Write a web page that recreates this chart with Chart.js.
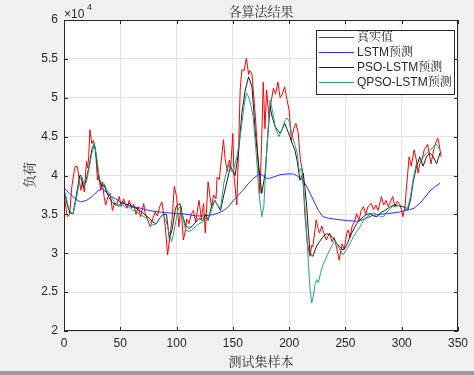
<!DOCTYPE html>
<html><head><meta charset="utf-8">
<script src="https://cdn.jsdelivr.net/npm/chart.js@4.4.1/dist/chart.umd.min.js"></script>
<style>html,body{margin:0;padding:0;background:#f0f0f0;overflow:hidden}canvas{display:block}</style>
</head><body>
<canvas id="c" width="474" height="375"></canvas>
<script>
// ---- data (values in units of 1e4) ----
const seriesNames = ['真实值', 'LSTM预测', 'PSO-LSTM预测', 'QPSO-LSTM预测'];
const xTicks = [0, 50, 100, 150, 200, 250, 300, 350];
const yTicks = [2, 2.5, 3, 3.5, 4, 4.5, 5, 5.5, 6];

const realX = [0,2,3,5,7,9,10,12,13.5,15,16.5,18,20,21,22,23,24.7,26,28,29.7,31,32.6,34,35.6,37,39,41,43,45,47,49,51,53,54.5,56,58,60,62,64,66,68,70.8,72,74,76.7,79,81,83,85,87,88.5,90,92,94,96,98,100,102,104,106,108,109,111,113,115,117,119,120,122,124,125.5,128,130,131,133,135,136,138,139,141.7,143,145,147,148,150,151,153.5,155,156.5,158,160,162,164,165,167,170,172,173,174,175.5,177,178.5,180,182,184,186,188,190,192,194,196,198,200,202,204,206,208,210,212,214,216,218.5,220,221,223,224,226,227,229,231,233,236,238,240,242,244.5,247,249,251,252.5,254,256,258,260,262,264,266,268,270,273,275,277,279,282,284,286,288,290,292,294,296,298,300,301,303,304,306.6,308.5,311,313,314.5,316,318,320,323,326,329,332,333,335];
const realY = [3.78,3.55,3.47,3.5,3.86,4.05,4.12,4.11,3.94,3.81,3.94,3.79,4.18,4.1,4.26,4.59,4.41,4.45,4.33,3.94,4.0,3.81,3.92,3.73,3.62,3.72,3.77,3.55,3.65,3.63,3.73,3.6,3.7,3.64,3.58,3.68,3.58,3.63,3.5,3.6,3.47,3.64,3.52,3.44,3.34,3.45,3.53,3.48,3.6,3.66,3.5,3.34,2.98,3.2,3.44,3.86,3.73,3.34,3.6,3.17,3.3,3.44,3.38,3.5,3.55,3.4,3.6,3.68,3.44,3.64,3.26,3.92,3.7,3.6,3.75,3.7,3.98,3.95,4.1,4.46,4.23,4.05,4.2,4.1,4.54,4.0,3.62,4.3,5.1,5.36,5.35,5.51,5.3,5.35,5.3,4.76,4.3,4.03,3.77,4.4,5.2,4.6,5.1,4.75,4.95,5.12,5.05,5.2,5.0,5.05,5.14,4.98,4.84,4.45,4.6,4.67,4.55,4.2,4.05,3.5,3.15,2.96,3.1,3.08,3.3,3.43,3.3,3.26,3.35,3.25,3.17,3.26,3.15,3.2,3.08,2.91,3.12,3.05,3.25,3.3,3.2,3.35,3.4,3.51,3.42,3.55,3.6,3.5,3.6,3.64,3.56,3.62,3.55,3.73,3.62,3.68,3.6,3.66,3.73,3.6,3.67,3.64,3.55,3.47,3.6,3.81,4.24,4.12,4.33,4.2,4.03,4.15,4.2,4.33,4.4,4.15,4.37,4.48,4.42,4.24];

const lstmX = [0,5,10,14.6,20,25,30,34,38,42,46,50,55,60,68,75,85.5,93,100,110,117,124,130,136,142,146,150.5,155,159,164,168,172.7,176,179,181.6,186,192,198,204,207.5,212,215.6,219,223,226,230,235,240,245,252,260,265,270,274.6,280,287,293,298,303,307,311,316,320,325,330,334];
const lstmY = [3.84,3.77,3.7,3.66,3.68,3.73,3.8,3.83,3.78,3.73,3.7,3.66,3.63,3.6,3.58,3.55,3.53,3.52,3.51,3.5,3.48,3.48,3.49,3.51,3.55,3.6,3.68,3.75,3.81,3.9,3.96,4.01,4.01,3.97,3.96,3.98,4.01,4.02,4.02,3.99,3.94,3.86,3.76,3.64,3.55,3.47,3.45,3.44,3.43,3.42,3.41,3.43,3.46,3.49,3.5,3.51,3.52,3.53,3.55,3.56,3.58,3.64,3.71,3.8,3.86,3.9];

const psoX = [0,3,5,8,11,14,15,17,19,22,25,27,29,31,33.5,35.5,38,40,43,46,49,52,55,58,61,64,67,70,73,76,79,82,85,88,91,93.5,96,99,101,103,105,108,111,114,117,120,123,126,128,131,134,137,139,142,145,148,150,152,155,158,161,164,167,170,173,175.7,178.7,181,183,185,187.5,190,192,194,196,198,200.6,203,205,207,209.6,212.5,214,215.6,217,218.6,221,224,227,230,233,236,239,242,245,248,251,254,257,260,263,266,269,272,275,278,281,285,288,290,293,296,299,302,305.6,308,310,313,316,319,322,325,328,331,334];
const psoY = [3.81,3.62,3.52,3.51,3.75,4.0,4.0,3.85,3.9,4.1,4.35,4.41,4.2,3.95,3.86,3.88,3.78,3.72,3.65,3.62,3.62,3.66,3.62,3.64,3.6,3.58,3.55,3.52,3.48,3.45,3.4,3.38,3.45,3.5,3.5,3.2,3.3,3.58,3.62,3.64,3.5,3.36,3.32,3.35,3.4,3.45,3.42,3.5,3.42,3.6,3.68,3.6,3.55,3.75,3.94,4.12,4.05,4.0,4.29,4.8,5.1,5.27,5.14,4.54,4.12,3.77,4.03,4.5,4.88,4.75,4.63,4.58,4.54,4.6,4.67,4.6,4.5,4.4,4.33,4.2,3.94,4.03,3.85,3.6,3.3,3.0,2.96,3.08,3.15,3.21,3.25,3.24,3.2,3.13,3.08,3.04,3.1,3.21,3.3,3.38,3.43,3.47,3.5,3.51,3.48,3.47,3.52,3.55,3.58,3.6,3.62,3.62,3.6,3.6,3.56,3.7,3.9,4.11,4.24,4.12,4.24,4.29,4.24,4.15,4.29];

const qpsoX = [0,3,5,8,11,14,16,18,20,23,25,27,29,31,33,35.5,38,40,43,46,49,52,55,58,61,64,67,70,73,76,79,82,85,88,91,93.5,95.6,98,101,103,105,108,111,114,117,120,123,126,128,131,134,137,139,142,146,149,151,153.5,156,158,160,162,164,166,168,171,173,175.7,177.5,180,183,185,188,191,194,196,198,200,202,205,207,209,211,213,215,217,218.5,220,221.5,223,224.5,226,228,230,232,234,236,238,240.7,243,246,248,251,254,257,260,263,266,269,272,275,278,281,284,287,290,292,295,298,301,304,306,308,310,313,317,320,322,325,328,331,334];
const qpsoY = [3.83,3.65,3.55,3.5,3.7,3.95,3.98,3.87,3.92,4.15,4.3,4.4,4.25,4.0,3.9,3.9,3.82,3.76,3.7,3.63,3.6,3.63,3.58,3.6,3.55,3.55,3.5,3.48,3.45,3.42,3.36,3.38,3.45,3.5,3.4,3.25,3.15,3.3,3.55,3.6,3.5,3.3,3.28,3.3,3.35,3.38,3.4,3.45,3.43,3.55,3.68,3.6,3.58,3.9,4.16,4.05,4.1,4.24,4.45,4.67,4.9,5.06,5.01,4.9,4.76,4.24,3.8,3.47,3.6,4.3,4.97,4.85,4.6,4.5,4.6,4.7,4.74,4.7,4.55,4.4,4.3,4.05,4.1,3.8,3.4,2.9,2.55,2.36,2.45,2.6,2.66,2.62,2.75,2.85,2.91,2.98,3.04,3.1,3.17,3.1,3.02,2.98,3.05,3.12,3.21,3.28,3.34,3.42,3.47,3.5,3.52,3.5,3.47,3.47,3.53,3.58,3.6,3.6,3.62,3.6,3.56,3.62,3.75,3.94,4.15,4.2,4.25,4.29,4.32,4.37,4.4,4.33];

const colors = ['#ff0000', '#2b2bff', '#1e1e1e', '#1fa585'];
const toPts = (xs, ys) => xs.map((x, i) => ({x, y: ys[i]}));

const FONT = '"Liberation Sans", Arial, "Noto Serif CJK SC", "Noto Sans CJK SC", sans-serif';
const CJK = '"Noto Serif CJK SC", "Noto Sans CJK SC", serif';
const AX = '#262626';

const decor = {
  id: 'decor',
  beforeDraw(chart) {
    const {ctx, chartArea: a} = chart;
    ctx.save();
    ctx.fillStyle = '#f0f0f0';
    ctx.fillRect(0, 0, chart.width, chart.height);
    ctx.fillStyle = '#ffffff';
    ctx.fillRect(a.left, a.top, a.right - a.left, a.bottom - a.top);
    ctx.fillStyle = '#9a9a9a';
    ctx.fillRect(0, 371, chart.width, 4);
    ctx.restore();
  },
  afterDraw(chart) {
    const {ctx, chartArea: a, scales} = chart;
    const xs = scales.x, ys = scales.y;
    ctx.save();
    ctx.strokeStyle = AX; ctx.lineWidth = 1;
    ctx.strokeRect(Math.round(a.left) + 0.5, Math.round(a.top) + 0.5, Math.round(a.right - a.left) - 1, Math.round(a.bottom - a.top) - 1);
    ctx.beginPath();
    xTicks.forEach(v => {
      const p = Math.round(xs.getPixelForValue(v)) + 0.5;
      ctx.moveTo(p, a.bottom); ctx.lineTo(p, a.bottom - 4);
      ctx.moveTo(p, a.top); ctx.lineTo(p, a.top + 4);
    });
    yTicks.forEach(v => {
      const p = Math.round(ys.getPixelForValue(v)) + 0.5;
      ctx.moveTo(a.left, p); ctx.lineTo(a.left + 4, p);
      ctx.moveTo(a.right, p); ctx.lineTo(a.right - 4, p);
    });
    ctx.stroke();
    ctx.fillStyle = '#333333';
    ctx.textAlign = 'center'; ctx.textBaseline = 'middle';
    ctx.font = '13px ' + CJK;
    ctx.fillText('各算法结果', (a.left + a.right) / 2, 11);
    ctx.fillText('测试集样本', (a.left + a.right) / 2, 361);
    ctx.save();
    ctx.translate(29, 175); ctx.rotate(-Math.PI / 2);
    ctx.fillText('负荷', 0, 0);
    ctx.restore();
    ctx.fillStyle = AX;
    ctx.textAlign = 'left'; ctx.textBaseline = 'alphabetic';
    ctx.font = '12px ' + FONT;
    ctx.fillText('×10', 64, 18);
    ctx.font = '9px ' + FONT;
    ctx.fillText('4', 87, 10);
    const L = 316, T = 30, R = 455, B = 95;
    ctx.fillStyle = '#ffffff';
    ctx.fillRect(L, T, R - L, B - T);
    ctx.strokeStyle = AX;
    ctx.strokeRect(L + 0.5, T + 0.5, R - L - 1, B - T - 1);
    const rows = [37.5, 52.5, 67.5, 82.5];
    for (let i = 0; i < seriesNames.length; i++) {
      ctx.beginPath();
      ctx.strokeStyle = colors[i];
      ctx.lineWidth = 1;
      ctx.moveTo(319, rows[i]); ctx.lineTo(354, rows[i]);
      ctx.stroke();
      ctx.fillStyle = AX;
      ctx.font = '12px ' + FONT;
      ctx.textBaseline = 'middle';
      ctx.fillText(seriesNames[i], 357, rows[i] + 0.5);
    }
    ctx.restore();
  }
};

new Chart(document.getElementById('c'), {
  type: 'line',
  data: {
    datasets: [
      {label: seriesNames[0], data: toPts(realX, realY), borderColor: colors[0], order: 3},
      {label: seriesNames[1], data: toPts(lstmX, lstmY), borderColor: colors[1], order: 2},
      {label: seriesNames[2], data: toPts(psoX, psoY), borderColor: colors[2], order: 1},
      {label: seriesNames[3], data: toPts(qpsoX, qpsoY), borderColor: colors[3], order: 0}
    ].map(d => Object.assign(d, {borderWidth: 1, pointRadius: 0, fill: false, tension: 0}))
  },
  options: {
    responsive: false, animation: false, devicePixelRatio: 1,
    layout: {padding: {top: 20, right: 16, left: 0, bottom: 0}},
    plugins: {legend: {display: false}, tooltip: {enabled: false}, title: {display: false}},
    scales: {
      x: {
        type: 'linear', min: 0, max: 350,
        afterBuildTicks: s => { s.ticks = xTicks.map(v => ({value: v})); },
        afterFit: s => { s.height = 44; },
        ticks: {color: AX, font: {family: FONT, size: 12}, padding: 5, maxRotation: 0, autoSkip: false,
                callback: v => String(Number(v))},
        grid: {color: '#e2e2e2', drawTicks: false},
        border: {display: false}
      },
      y: {
        type: 'linear', min: 2, max: 6,
        afterBuildTicks: s => { s.ticks = yTicks.map(v => ({value: v})); },
        afterFit: s => { s.width = 64; },
        ticks: {color: AX, font: {family: FONT, size: 12}, padding: 6, autoSkip: false,
                callback: v => String(Number(v))},
        grid: {color: '#e2e2e2', drawTicks: false},
        border: {display: false}
      }
    }
  },
  plugins: [decor]
});
</script>
</body></html>
